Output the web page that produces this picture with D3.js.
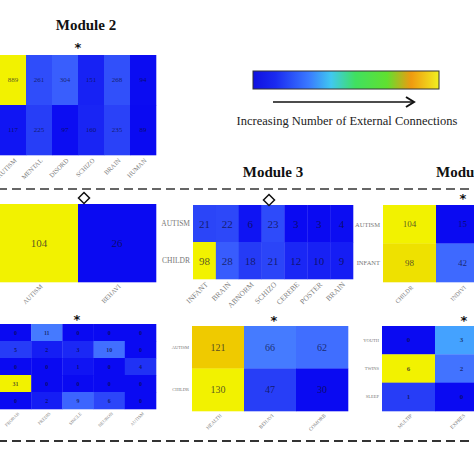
<!DOCTYPE html>
<html><head><meta charset="utf-8">
<script src="https://cdn.jsdelivr.net/npm/d3@7"></script>
<style>html,body{margin:0;padding:0;background:#fff;overflow:hidden}svg{display:block}</style>
</head><body>
<svg id="c" width="474" height="474"></svg>
<script>
// ---------- data ----------
const mod2Rows = ["R1", "R2"];
const mod2Cols = ["AUTISM", "MENTAL", "DISORD", "SCHIZO", "BRAIN", "HUMAN"];
const mod2Values = [[889, 261, 304, 151, 268, 94], [117, 225, 97, 160, 235, 89]];

const midLeftRows = ["R1"];
const midLeftCols = ["AUTISM", "BEHAVI"];
const midLeftValues = [[104, 26]];

const mod3Rows = ["AUTISM", "CHILDR"];
const mod3Cols = ["INFANT", "BRAIN", "ABNORM", "SCHIZO", "CEREBE", "POSTER", "BRAIN"];
const mod3Values = [[21, 22, 6, 23, 3, 3, 4], [98, 28, 18, 21, 12, 10, 9]];

const mod4Rows = ["AUTISM", "INFANT"];
const mod4Cols = ["CHILDR", "INDIVI"];
const mod4Values = [[104, 15], [98, 42]];

const botLeftRows = ["A", "B", "C", "D", "E"];
const botLeftCols = ["PROBAB", "PREDIS", "SINGLE", "NEURON", "AUTISM"];
const botLeftValues = [[0, 11, 0, 0, 0], [5, 2, 3, 10, 0], [0, 0, 1, 0, 4], [31, 0, 0, 0, 0], [0, 2, 9, 6, 0]];

const botMidRows = ["AUTISM", "CHILDR"];
const botMidCols = ["HEALTH", "BEHAVI", "COMORB"];
const botMidValues = [[121, 66, 62], [130, 47, 30]];

const botRightRows = ["YOUTH", "TWINS", "SLEEP"];
const botRightCols = ["MULTIP", "EXPRES"];
const botRightValues = [[0, 3], [6, 2], [1, 0]];

const titles = ["Module 2", "Module 3", "Module 4"];
const legendText = "Increasing Number of External Connections";

// colour map
const cellStops = [0, 0.15, 0.3, 0.4, 0.5, 0.7, 0.88, 0.93, 1];
const cellColors = ["#0a0af2", "#2438f6", "#3e68ff", "#4a88ff", "#44a2ff", "#40e070", "#f0a800", "#eee000", "#f2f200"];
const barStops = [0, 0.12, 0.3, 0.42, 0.55, 0.72, 0.85, 1];
const barColors = ["#1010e0", "#1a2af0", "#3a7aff", "#40c8f0", "#40e060", "#60e030", "#f09a10", "#f0f020"];

// ---------- drawing ----------
const svg = d3.select("#c");
const serif = "'Liberation Serif', 'DejaVu Serif', serif";
const cmap = d3.scaleLinear().domain(cellStops).range(cellColors).clamp(true);

function heatmap(o) {
  const g = svg.append("g");
  const x = d3.scaleBand().domain(d3.range(o.cols.length)).range([o.x0, o.x1]);
  const y = d3.scaleBand().domain(d3.range(o.rows.length)).range([o.y0, o.y1]);
  const flat = o.values.flat();
  const norm = d3.scaleLinear().domain(d3.extent(flat)).range([0, 1]);
  const cells = [];
  o.values.forEach((row, r) => row.forEach((v, c) => cells.push({r, c, v})));
  g.selectAll("rect").data(cells).join("rect")
    .attr("x", d => x(d.c)).attr("y", d => y(d.r))
    .attr("width", x.bandwidth() + 0.3).attr("height", y.bandwidth() + 0.3)
    .attr("fill", d => cmap(norm(d.v)));
  g.selectAll("text.v").data(cells).join("text").attr("class", "v")
    .attr("x", d => x(d.c) + x.bandwidth() / 2).attr("y", d => y(d.r) + y.bandwidth() / 2)
    .attr("text-anchor", "middle").attr("dominant-baseline", "central")
    .attr("font-family", serif).attr("font-size", o.vfs).attr("font-weight", o.vfw || "normal")
    .attr("fill", "#0a0a30").attr("fill-opacity", 0.7)
    .text(d => d.v);
  g.selectAll("text.cl").data(o.cols).join("text").attr("class", "cl")
    .attr("transform", (d, i) => `translate(${x(i) + x.bandwidth() / 2 + o.cdx},${o.y1 + o.cdy}) rotate(-45)`)
    .attr("text-anchor", "end").attr("font-family", serif).attr("font-size", o.cfs)
    .attr("fill", "#808080").text(d => d);
  if (o.showRows) {
    g.selectAll("text.rl").data(o.rows).join("text").attr("class", "rl")
      .attr("x", o.x0 - 3).attr("y", (d, i) => y(i) + y.bandwidth() / 2)
      .attr("text-anchor", "end").attr("dominant-baseline", "central")
      .attr("font-family", serif).attr("font-size", o.rfs).attr("fill", "#777").text(d => d);
  }
  return g;
}

heatmap({rows: mod2Rows, cols: mod2Cols, values: mod2Values, x0: 0, x1: 156, y0: 55, y1: 155, vfs: 7, cfs: 6.5, cdx: 4, cdy: 6});
heatmap({rows: midLeftRows, cols: midLeftCols, values: midLeftValues, x0: 0, x1: 156, y0: 204, y1: 282, vfs: 11, cfs: 6.5, cdx: 4, cdy: 5});
heatmap({rows: mod3Rows, cols: mod3Cols, values: mod3Values, x0: 193, x1: 353, y0: 205, y1: 279, vfs: 11, cfs: 7.5, cdx: 4, cdy: 6, showRows: true, rfs: 7.5});
heatmap({rows: mod4Rows, cols: mod4Cols, values: mod4Values, x0: 383, x1: 489, y0: 205, y1: 282, vfs: 9, cfs: 6, cdx: 4, cdy: 6, showRows: true, rfs: 6.5});
heatmap({rows: botLeftRows, cols: botLeftCols, values: botLeftValues, x0: 0, x1: 156, y0: 324, y1: 409, vfs: 6, vfw: "bold", cfs: 4.5, cdx: 4, cdy: 5});
heatmap({rows: botMidRows, cols: botMidCols, values: botMidValues, x0: 192, x1: 348, y0: 326, y1: 411, vfs: 10, cfs: 5, cdx: 4, cdy: 5, showRows: true, rfs: 4.5});
heatmap({rows: botRightRows, cols: botRightCols, values: botRightValues, x0: 382, x1: 488, y0: 326, y1: 411, vfs: 7, vfw: "bold", cfs: 5, cdx: 4, cdy: 5, showRows: true, rfs: 4.5});

// titles
[[titles[0], 86, 30, "middle"], [titles[1], 273, 177, "middle"], [titles[2], 436, 177, "start"]].forEach(t => {
  svg.append("text").attr("x", t[1]).attr("y", t[2]).attr("text-anchor", t[3])
    .attr("font-family", serif).attr("font-weight", "bold").attr("font-size", 15).attr("fill", "#111").text(t[0]);
});

// asterisks
[[78, 52], [77, 324], [274, 325], [463, 203], [464, 325]].forEach(p => {
  svg.append("text").attr("x", p[0]).attr("y", p[1]).attr("text-anchor", "middle")
    .attr("font-family", "'DejaVu Sans', sans-serif").attr("font-size", 13).attr("font-weight", "bold").attr("fill", "#111").text("*");
});
// diamonds
[[84, 198], [269, 200]].forEach(p => {
  svg.append("path").attr("d", "M0,-5.5 L5.5,0 L0,5.5 L-5.5,0 Z")
    .attr("transform", `translate(${p[0]},${p[1]})`).attr("fill", "#fff").attr("stroke", "#111").attr("stroke-width", 1.5);
});

// dashed separators
svg.append("line").attr("x1", -2).attr("x2", 476).attr("y1", 189).attr("y2", 189)
  .attr("stroke", "#666").attr("stroke-width", 2).attr("stroke-dasharray", "9,5");
svg.append("line").attr("x1", -2).attr("x2", 476).attr("y1", 441).attr("y2", 441)
  .attr("stroke", "#333").attr("stroke-width", 2).attr("stroke-dasharray", "9,5");

// colour bar
const defs = svg.append("defs");
const grad = defs.append("linearGradient").attr("id", "cb").attr("x1", "0%").attr("x2", "100%");
grad.selectAll("stop").data(barStops).join("stop")
  .attr("offset", d => d * 100 + "%").attr("stop-color", (d, i) => barColors[i]);
svg.append("rect").attr("x", 253).attr("y", 71).attr("width", 186).attr("height", 18)
  .attr("fill", "url(#cb)").attr("stroke", "#333").attr("stroke-width", 1);
svg.append("line").attr("x1", 273).attr("x2", 413).attr("y1", 102).attr("y2", 102).attr("stroke", "#111").attr("stroke-width", 1.3);
svg.append("path").attr("d", "M406,97 L414,102 L406,107").attr("fill", "none").attr("stroke", "#111").attr("stroke-width", 2);
svg.append("text").attr("x", 347).attr("y", 125).attr("text-anchor", "middle")
  .attr("font-family", serif).attr("font-size", 12.5).attr("fill", "#222").text(legendText);
</script>
</body></html>
